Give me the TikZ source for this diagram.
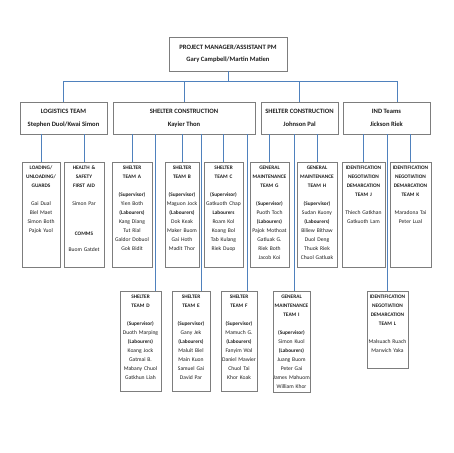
\documentclass[tikz,border=0pt]{standalone}
\usepackage{fontspec}
\setmainfont{Carlito}
\usepackage{tikz}
\usetikzlibrary{calc}
\definecolor{linkblue}{RGB}{79,129,189}
\definecolor{boxgray}{RGB}{125,125,125}
\definecolor{txt}{RGB}{30,30,30}
\newcommand{\hd}[1]{{\fontsize{5.3}{9}\selectfont\bfseries #1}}

\begin{document}
\begin{tikzpicture}[x=1pt, y=1pt, every node/.style={align=center,text=txt}, head/.style={draw=boxgray,fill=white,thin,inner sep=0pt,minimum width=#1pt,minimum height=32pt,font=\fontsize{6.6}{13}\selectfont\bfseries}, unit/.style={draw=boxgray,fill=white,thin,inner sep=0pt,anchor=north,text width=#1pt,text height=7pt,text depth=98pt,font=\fontsize{5.6}{9}\selectfont}, link/.style={linkblue,line width=1pt}]
  \useasboundingbox (0,0) rectangle (453,-453);
  % top and second level
  \node[head=118,minimum height=34pt,font=\fontsize{6.6}{12}\selectfont\bfseries] (pm) at (228,-54) {PROJECT MANAGER/ASSISTANT PM\\Gary Campbell/Martin Matien};
  \node[head=87] (logi) at (63.5,-118) {LOGISTICS TEAM\\Stephen Duol/Kwai Simon};
  \node[head=142] (kayier) at (184,-118) {SHELTER CONSTRUCTION\\Kayier Thon};
  \node[head=77] (johnson) at (299.5,-118) {SHELTER CONSTRUCTION\\Johnson Pal};
  \node[head=87] (ind) at (386.5,-118) {IND Teams\\Jickson Riek};
  \coordinate (bus) at (228,-81);
  \coordinate (indtop) at ([xshift=10.5pt]ind.north);
  % teams, upper row
  \node[unit=38] (load) at (41,-162) {\hd{LOADING/}\\\hd{UNLOADING/}\\\hd{GUARDS}\\[9pt]Gai Dual\\Biel Maet\\Simon Both\\Pajok Yuol};
  \node[unit=40] (health) at (84,-162) {\hd{HEALTH \&}\\\hd{SAFETY}\\\hd{FIRST AID}\\[9pt]Simon Par\\[21pt]\hd{COMMS}\\[7pt]Buom Gatdet};
  \node[unit=40] (sha) at (132,-162) {\hd{SHELTER}\\\hd{TEAM A}\\[9pt]\hd{(Supervisor)}\\Yien Both\\\hd{(Labourers)}\\Kang Diang\\Tut Rial\\Galdor Dobuol\\Gok Bidit};
  \node[unit=34] (shb) at (182,-162) {\hd{SHELTER}\\\hd{TEAM B}\\[9pt]\hd{(Supervisor)}\\Maguon Jock\\\hd{(Labourers)}\\Dok Keak\\Maker Buom\\Gai Hoth\\Madit Thor};
  \node[unit=39] (shc) at (223.5,-162) {\hd{SHELTER}\\\hd{TEAM C}\\[9pt]\hd{(Supervisor)}\\Gatkuoth Chap\\\hd{Labourers}\\Roam Kol\\Koang Bol\\Tab Kulang\\Riek Duop};
  \node[unit=39] (gmg) at (269.5,-162) {\hd{GENERAL}\\\hd{MAINTENANCE}\\\hd{TEAM G}\\[9pt]\hd{(Supervisor)}\\Puoth Toch\\\hd{(Labourers)}\\Pajok Mothoat\\Gatluak G.\\Riek Both\\Jacob Koi};
  \node[unit=40] (gmh) at (317,-162) {\hd{GENERAL}\\\hd{MAINTENANCE}\\\hd{TEAM H}\\[9pt]\hd{(Supervisor)}\\Sudan Kuony\\\hd{(Labourers)}\\Biliew Bithaw\\Duol Deng\\Thuok Riek\\Chuol Gatluak};
  \node[unit=43] (idj) at (363.5,-162) {\hd{IDENTIFICATION}\\\hd{NEGOTIATION}\\\hd{DEMARCATION}\\\hd{TEAM J}\\[9pt]Thiech Gatkhan\\Gatkuoth Lam};
  \node[unit=41] (idk) at (410.5,-162) {\hd{IDENTIFICATION}\\\hd{NEGOTIATION}\\\hd{DEMARCATION}\\\hd{TEAM K}\\[9pt]Maradona Tai\\Peter Lual};
  % teams, lower row
  \node[unit=41,text depth=93pt] (shd) at (140.5,-291) {\hd{SHELTER}\\\hd{TEAM D}\\[9pt]\hd{(Supervisor)}\\Duoth Marping\\\hd{(Labourers)}\\Koang Jock\\Gatmai B.\\Mabany Chuol\\Gatkhun Liah};
  \node[unit=38,text depth=93pt] (she) at (191,-291) {\hd{SHELTER}\\\hd{TEAM E}\\[9pt]\hd{(Supervisor)}\\Gany Jek\\\hd{(Labourers)}\\Maluit Biel\\Main Kuon\\Samuel Gai\\David Par};
  \node[unit=36,text depth=93pt] (shf) at (239,-291) {\hd{SHELTER}\\\hd{TEAM F}\\[9pt]\hd{(Supervisor)}\\Mamuch G.\\\hd{(Labourers)}\\Fanyim Wal\\Daniel Mawier\\Chuol Tai\\Khor Koak};
  \node[unit=37,text depth=94pt] (gmi) at (291.5,-291) {\hd{GENERAL}\\\hd{MAINTENANCE}\\\hd{TEAM I}\\[9pt]\hd{(Supervisor)}\\Simon Kuol\\\hd{(Labourers)}\\Juang Buom\\Peter Gai\\James Mahuom\\William Khor};
  \node[unit=41,text depth=70pt] (idl) at (387.5,-291) {\hd{IDENTIFICATION}\\\hd{NEGOTIATION}\\\hd{DEMARCATION}\\\hd{TEAM L}\\[9pt]Malsuach Ruach\\Marwich Yaka};
  \coordinate (dtop) at ([xshift=14.5pt]shd.north);
  \coordinate (etop) at ([xshift=10pt]she.north);
  \coordinate (ftop) at ([xshift=8pt]shf.north);
  \coordinate (itop) at ([xshift=2.5pt]gmi.north);
  % connectors
  \draw[link] (pm.south) -- (bus);
  \draw[link] (logi.north |- bus) -- (indtop |- bus);
  \draw[link] (logi.north |- bus) -- (logi.north);
  \draw[link] (kayier.north |- bus) -- (kayier.north);
  \draw[link] (johnson.north |- bus) -- (johnson.north);
  \draw[link] (indtop |- bus) -- (indtop);
  \draw[link] (logi.south -| load.north) -- (load.north);
  \draw[link] (logi.south -| health.north) -- (health.north);
  \draw[link] (kayier.south -| sha.north) -- (sha.north);
  \draw[link] (kayier.south -| shb.north) -- (shb.north);
  \draw[link] (kayier.south -| shc.north) -- (shc.north);
  \draw[link] (johnson.south -| gmg.north) -- (gmg.north);
  \draw[link] (johnson.south -| gmh.north) -- (gmh.north);
  \draw[link] (ind.south -| idj.north) -- (idj.north);
  \draw[link] (ind.south -| idk.north) -- (idk.north);
  \draw[link] (kayier.south -| dtop) -- (dtop);
  \draw[link] (kayier.south -| etop) -- (etop);
  \draw[link] (kayier.south -| ftop) -- (ftop);
  \draw[link] (johnson.south -| itop) -- (itop);
  \draw[link] (ind.south -| idl.north) -- (idl.north);
\end{tikzpicture}
\end{document}
